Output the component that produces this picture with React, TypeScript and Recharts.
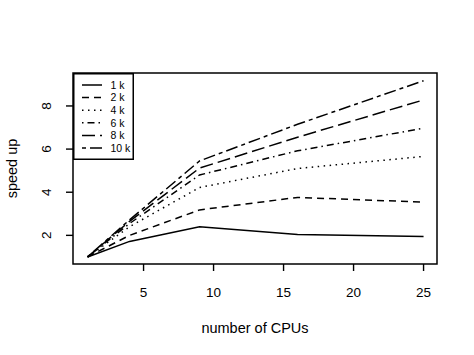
import React from 'react';
import {
  LineChart,
  Line,
  XAxis,
  YAxis,
  ReferenceArea,
  Legend,
  Label,
} from 'recharts';

// ─────────────────────────────────────────────
// DATA
// ─────────────────────────────────────────────

const CPUS = [1, 4, 9, 16, 25];

const SPEEDUP_1K = [1, 1.72, 2.4, 2.04, 1.95];
const SPEEDUP_2K = [1, 2.0, 3.18, 3.76, 3.54];
const SPEEDUP_4K = [1, 2.4, 4.22, 5.1, 5.66];
const SPEEDUP_6K = [1, 2.55, 4.8, 5.92, 6.97];
const SPEEDUP_8K = [1, 2.65, 5.12, 6.55, 8.28];
const SPEEDUP_10K = [1, 2.72, 5.45, 7.15, 9.17];

const SERIES_NAMES = ['1 k', '2 k', '4 k', '6 k', '8 k', '10 k'];
const SERIES_VALUES = [SPEEDUP_1K, SPEEDUP_2K, SPEEDUP_4K, SPEEDUP_6K, SPEEDUP_8K, SPEEDUP_10K];

const X_TICKS = [5, 10, 15, 20, 25];
const Y_TICKS = [2, 4, 6, 8];

// R-style axis ranges (data range extended by 4%)
const X_DOMAIN: [number, number] = [-0.04, 25.96];
const Y_DOMAIN: [number, number] = [0.672, 9.528];

// R lty patterns: solid, dashed, dotted, dotdash, longdash, twodash
const DASHES = ['', '7 5', '1.5 4.5', '1.5 4 7 4', '13 5', '4 4 12 4'];

const FONT = '"Liberation Sans", Arial, Helvetica, sans-serif';

const data = CPUS.map((cpu, i) => {
  const row: Record<string, number> = { cpu };
  SERIES_NAMES.forEach((name, s) => {
    row[name] = SERIES_VALUES[s][i];
  });
  return row;
});

// ─────────────────────────────────────────────
// CUSTOM PIECES
// ─────────────────────────────────────────────

function YTick(props: any) {
  const { x, y, payload } = props;
  return (
    <text
      x={x}
      y={y}
      transform={`rotate(-90, ${x}, ${y})`}
      textAnchor="middle"
      fontSize={13.5}
      fontFamily={FONT}
      fill="#000"
    >
      {payload.value}
    </text>
  );
}

function LegendBox() {
  const rowH = 12.6;
  return (
    <svg width={61} height={87} style={{ display: 'block' }}>
      <rect x={0.75} y={0.75} width={59.5} height={85.5} fill="#fff" stroke="#000" strokeWidth={1.5} />
      {SERIES_NAMES.map((name, i) => {
        const cy = 12 + i * rowH;
        return (
          <g key={name}>
            <line
              x1={9}
              x2={29}
              y1={cy}
              y2={cy}
              stroke="#000"
              strokeWidth={1.5}
              strokeDasharray={DASHES[i] || undefined}
            />
            <text x={37.5} y={cy + 3.7} fontSize={10.5} fontFamily={FONT} fill="#000">
              {name}
            </text>
          </g>
        );
      })}
    </svg>
  );
}

// ─────────────────────────────────────────────
// APP
// ─────────────────────────────────────────────

export default function App() {
  return (
    <div style={{ position: 'absolute', left: 0, top: 0, width: 474, height: 355, background: '#fff' }}>
      <LineChart
        width={474}
        height={355}
        data={data}
        margin={{ left: 13, right: 37, top: 73, bottom: 21 }}
      >
        <XAxis
          dataKey="cpu"
          type="number"
          domain={X_DOMAIN}
          ticks={X_TICKS}
          allowDataOverflow
          axisLine={false}
          tickLine={{ stroke: '#000', strokeWidth: 1.4 }}
          tickSize={7}
          tickMargin={16}
          height={70}
          tick={{ fontSize: 13.5, fontFamily: FONT, fill: '#000' }}
        >
          <Label
            content={(p: any) => {
              const vb = p.viewBox;
              return (
                <text
                  x={vb.x + vb.width / 2}
                  y={333}
                  textAnchor="middle"
                  fontSize={14.5}
                  fontFamily={FONT}
                  fill="#000"
                >
                  number of CPUs
                </text>
              );
            }}
          />
        </XAxis>
        <YAxis
          type="number"
          domain={Y_DOMAIN}
          ticks={Y_TICKS}
          allowDataOverflow
          axisLine={false}
          tickLine={{ stroke: '#000', strokeWidth: 1.4 }}
          tickSize={7}
          tickMargin={15}
          width={60}
          tick={<YTick />}
        >
          <Label
            content={(p: any) => {
              const vb = p.viewBox;
              const cy = vb.y + vb.height / 2;
              return (
                <text
                  x={16.8}
                  y={cy}
                  transform={`rotate(-90, 16.8, ${cy})`}
                  textAnchor="middle"
                  fontSize={14.5}
                  fontFamily={FONT}
                  fill="#000"
                >
                  speed up
                </text>
              );
            }}
          />
        </YAxis>
        <ReferenceArea
          x1={X_DOMAIN[0]}
          x2={X_DOMAIN[1]}
          y1={Y_DOMAIN[0]}
          y2={Y_DOMAIN[1]}
          fill="none"
          stroke="#000"
          strokeWidth={1.5}
          ifOverflow="visible"
        />
        {SERIES_NAMES.map((name, i) => (
          <Line
            key={name}
            dataKey={name}
            type="linear"
            stroke="#000"
            strokeWidth={1.5}
            strokeDasharray={DASHES[i] || undefined}
            dot={false}
            activeDot={false}
            isAnimationActive={false}
          />
        ))}
        <Legend
          layout="vertical"
          align="center"
          verticalAlign="middle"
          wrapperStyle={{ left: 73, top: 73, width: 61, height: 87 }}
          content={() => <LegendBox />}
        />
      </LineChart>
    </div>
  );
}
